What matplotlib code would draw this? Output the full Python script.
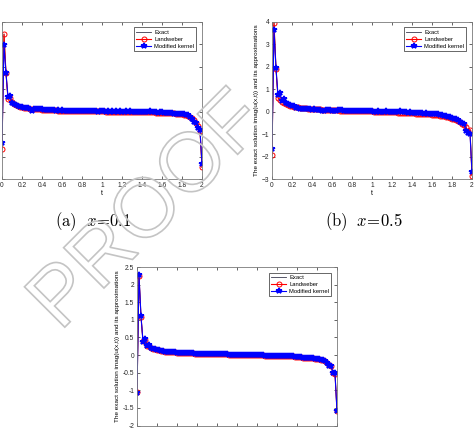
import numpy as np
import matplotlib
matplotlib.use("Agg")
import matplotlib.pyplot as plt
from matplotlib.textpath import TextPath
from matplotlib.patches import PathPatch
from matplotlib.font_manager import FontProperties
from matplotlib.transforms import Affine2D

plt.rcParams['font.family'] = ['Liberation Sans', 'DejaVu Sans']
plt.rcParams['mathtext.fontset'] = 'cm'

# time grid t = 0:0.02:2
t = np.linspace(0.0, 2.0, 101)

# ---------------- panel (a) x = 0.1 ----------------
mod_a = [-1.41,
         2.97, 1.71, 0.67, 0.70, 0.40, 0.36, 0.30, 0.27, 0.22, 0.20,
         0.18, 0.17, 0.15, 0.14, 0.05, 0.11, 0.12, 0.11, 0.10, 0.10,
         0.08, 0.09, 0.07, 0.08, 0.06, 0.07, 0.05, 0.06, 0.05, 0.06,
         0.04, 0.05, 0.03, 0.05, 0.04, 0.02, 0.04, 0.03, 0.05, 0.01,
         0.03, 0.02, 0.04, 0.03, 0.01, 0.03, 0.02, 0.00, 0.02, 0.01,
         0.02, 0.00, 0.02, -0.01, 0.01, 0.00, 0.02, -0.01, 0.01, 0.00,
         -0.02, 0.01, 0.00, 0.02, 0.00, -0.01, 0.00, -0.02, 0.00, -0.01,
         -0.03, -0.01, -0.02, 0.03, -0.01, -0.03, -0.02, -0.04, -0.02, 0.00,
         -0.04, -0.06, -0.05, -0.07, -0.06, -0.09, -0.08, -0.10, -0.09, -0.11,
         -0.10, -0.13, -0.16, -0.25, -0.33, -0.45, -0.52, -0.74, -0.80, -2.33]
land_a = [-1.66,
          3.46, 1.72, 0.55, 0.62, 0.42, 0.33, 0.28, 0.25, 0.22, 0.20,
          0.18, 0.16, 0.15, 0.14, 0.13, 0.12, 0.11, 0.10, 0.10, 0.09,
          0.08, 0.08, 0.07, 0.07, 0.06, 0.06, 0.06, 0.05, 0.05, 0.05,
          0.04, 0.04, 0.04, 0.03, 0.03, 0.03, 0.03, 0.03, 0.02, 0.02,
          0.02, 0.02, 0.02, 0.02, 0.01, 0.01, 0.01, 0.01, 0.01, 0.01,
          0.01, 0.00, 0.00, 0.00, 0.00, 0.00, 0.00, 0.00, 0.00, -0.01,
          -0.01, -0.01, -0.01, -0.01, -0.01, -0.01, -0.02, -0.02, -0.02, -0.02,
          -0.02, -0.02, -0.03, -0.03, -0.03, -0.03, -0.04, -0.04, -0.04, -0.05,
          -0.05, -0.05, -0.06, -0.06, -0.07, -0.07, -0.08, -0.09, -0.10, -0.11,
          -0.13, -0.15, -0.18, -0.22, -0.28, -0.36, -0.50, -0.62, -0.85, -2.48]
exact_a = land_a

# ---------------- panel (b) x = 0.5 ----------------
mod_b = [-1.66,
         3.64, 1.95, 0.74, 0.82, 0.48, 0.55, 0.38, 0.34, 0.31, 0.26,
         0.24, 0.16, 0.17, 0.14, 0.12, 0.13, 0.11, 0.12, 0.10, 0.09,
         0.10, 0.08, 0.06, 0.07, 0.05, 0.04, 0.06, 0.08, 0.07, 0.05,
         0.03, 0.04, 0.06, 0.08, 0.07, 0.05, 0.04, 0.02, 0.04, 0.05,
         0.03, 0.02, 0.03, 0.01, 0.02, 0.03, 0.01, 0.02, 0.03, 0.02,
         0.00, -0.01, 0.01, 0.00, -0.02, 0.00, 0.01, -0.01, 0.00, -0.01,
         -0.02, 0.00, -0.01, 0.01, -0.02, -0.03, -0.02, -0.04, -0.03, -0.05,
         -0.04, -0.06, -0.05, -0.07, -0.06, -0.08, -0.07, -0.09, -0.08, -0.10,
         -0.11, -0.10, -0.12, -0.14, -0.16, -0.18, -0.20, -0.22, -0.25, -0.28,
         -0.31, -0.34, -0.38, -0.44, -0.50, -0.55, -0.88, -0.93, -0.98, -2.70]
land_b = [-1.93,
          3.97, 1.90, 0.62, 0.52, 0.45, 0.38, 0.34, 0.30, 0.27, 0.25,
          0.23, 0.21, 0.19, 0.18, 0.17, 0.16, 0.15, 0.14, 0.13, 0.12,
          0.12, 0.11, 0.10, 0.10, 0.09, 0.09, 0.08, 0.08, 0.07, 0.07,
          0.06, 0.06, 0.06, 0.05, 0.05, 0.05, 0.04, 0.04, 0.04, 0.03,
          0.03, 0.03, 0.03, 0.02, 0.02, 0.02, 0.02, 0.01, 0.01, 0.01,
          0.00, 0.00, 0.00, -0.01, -0.01, -0.01, -0.02, -0.02, -0.02, -0.03,
          -0.03, -0.03, -0.04, -0.04, -0.04, -0.05, -0.05, -0.06, -0.06, -0.07,
          -0.07, -0.08, -0.08, -0.09, -0.09, -0.10, -0.10, -0.11, -0.12, -0.13,
          -0.14, -0.15, -0.16, -0.17, -0.19, -0.21, -0.23, -0.25, -0.28, -0.31,
          -0.34, -0.38, -0.42, -0.47, -0.53, -0.60, -0.70, -0.85, -0.82, -2.85]
exact_b = land_b

# ---------------- panel (c) ----------------
mod_c = [-1.07,
         2.26, 1.10, 0.38, 0.45, 0.26, 0.28, 0.21, 0.18, 0.16, 0.14,
         0.13, 0.12, 0.11, 0.10, 0.10, 0.09, 0.09, 0.08, 0.08, 0.07,
         0.07, 0.06, 0.06, 0.06, 0.05, 0.05, 0.05, 0.05, 0.04, 0.04,
         0.04, 0.04, 0.04, 0.03, 0.03, 0.03, 0.03, 0.03, 0.03, 0.02,
         0.02, 0.02, 0.02, 0.02, 0.02, 0.01, 0.01, 0.01, 0.01, 0.01,
         0.01, 0.00, 0.00, 0.00, 0.00, 0.00, 0.00, -0.01, -0.01, -0.01,
         -0.01, -0.01, -0.01, -0.02, -0.02, -0.02, -0.02, -0.02, -0.03, -0.03,
         -0.03, -0.03, -0.03, -0.03, -0.04, -0.04, -0.04, -0.04, -0.05, -0.05,
         -0.06, -0.06, -0.07, -0.07, -0.08, -0.08, -0.09, -0.09, -0.10, -0.11,
         -0.12, -0.13, -0.15, -0.17, -0.22, -0.30, -0.30, -0.52, -0.52, -1.60]
land_c = [-1.05,
          2.24, 1.09, 0.39, 0.44, 0.27, 0.27, 0.21, 0.18, 0.16, 0.14,
          0.13, 0.12, 0.11, 0.10, 0.10, 0.09, 0.09, 0.08, 0.08, 0.07,
          0.07, 0.06, 0.06, 0.06, 0.05, 0.05, 0.05, 0.05, 0.04, 0.04,
          0.04, 0.04, 0.04, 0.03, 0.03, 0.03, 0.03, 0.03, 0.03, 0.02,
          0.02, 0.02, 0.02, 0.02, 0.02, 0.01, 0.01, 0.01, 0.01, 0.01,
          0.01, 0.00, 0.00, 0.00, 0.00, 0.00, 0.00, -0.01, -0.01, -0.01,
          -0.01, -0.01, -0.01, -0.02, -0.02, -0.02, -0.02, -0.02, -0.03, -0.03,
          -0.03, -0.03, -0.03, -0.03, -0.04, -0.04, -0.04, -0.04, -0.05, -0.05,
          -0.06, -0.06, -0.07, -0.07, -0.08, -0.08, -0.09, -0.09, -0.10, -0.11,
          -0.12, -0.13, -0.15, -0.17, -0.22, -0.29, -0.31, -0.51, -0.53, -1.58]
exact_c = land_c

x_ticks = [0, 0.2, 0.4, 0.6, 0.8, 1.0, 1.2, 1.4, 1.6, 1.8, 2.0]
x_ticklabels = ['0', '0.2', '0.4', '0.6', '0.8', '1', '1.2', '1.4', '1.6', '1.8', '2']
y_ticks_ab = [-3, -2, -1, 0, 1, 2, 3, 4]
y_ticks_c = [-2, -1.5, -1, -0.5, 0, 0.5, 1, 1.5, 2, 2.5]
y_ticklabels_c = ['-2', '-1.5', '-1', '-0.5', '0', '0.5', '1', '1.5', '2', '2.5']
legend_labels = ['Exact', 'Landweber', 'Modified kernel']
ylabel_text = 'The exact solution imag(u(x,t)) and its approximations'
captions = [r'$\mathrm{(a)}\ \ x\!=\!0.1$', r'$\mathrm{(b)}\ \ x\!=\!0.5$']

W, H = 474, 428
fig = plt.figure(figsize=(W / 100, H / 100), dpi=100)


def ax_at(left, top, width, height):
    return fig.add_axes([left / W, 1 - (top + height) / H, width / W, height / H])


def draw(ax, exact, land, mod, ylim, yticks, yticklabels=None):
    ax.plot(t, exact, '-', color='#3a3a50', lw=0.6, label=legend_labels[0])
    ax.plot(t, land, '-o', color='#ff0000', lw=0.8, ms=3.6, mfc='none', mew=0.7,
            label=legend_labels[1])
    ax.plot(t, mod, '-*', color='#0000ff', lw=0.8, ms=4.4, mew=1.1,
            label=legend_labels[2])
    ax.set_xlim(0, 2)
    ax.set_ylim(*ylim)
    ax.set_xticks(x_ticks)
    ax.set_xticklabels(x_ticklabels)
    ax.set_yticks(yticks)
    if yticklabels is not None:
        ax.set_yticklabels(yticklabels)
    ax.tick_params(direction='in', length=2.0, width=0.5, top=True, right=True,
                   labelsize=4.8, pad=2, colors='#262626')
    for s in ax.spines.values():
        s.set_linewidth(0.6)
        s.set_color('#7a7a7a')
    ax.set_ylabel(ylabel_text, fontsize=4.6, labelpad=2)
    leg = ax.legend(loc='upper right', bbox_to_anchor=(0.97, 0.965), fontsize=4.2,
                    frameon=True, fancybox=False, borderaxespad=0, handlelength=2.6,
                    borderpad=0.35, labelspacing=0.35, handletextpad=0.5)
    leg.get_frame().set_edgecolor('#222222')
    leg.get_frame().set_linewidth(0.6)


ax_a = ax_at(2, 22, 200, 157)
draw(ax_a, exact_a, land_a, mod_a, (-3, 4), y_ticks_ab)
ax_a.set_xlabel('t', fontsize=5, labelpad=1)

ax_b = ax_at(272, 22, 200, 157)
draw(ax_b, exact_b, land_b, mod_b, (-3, 4), y_ticks_ab)
ax_b.set_xlabel('t', fontsize=5, labelpad=1)

ax_c = ax_at(137, 267, 200, 158.5)
draw(ax_c, exact_c, land_c, mod_c, (-2, 2.5), y_ticks_c, y_ticklabels_c)

fig.text(93 / W, 1 - 222 / H, captions[0], fontsize=12, ha='center', va='center')
fig.text(364 / W, 1 - 222 / H, captions[1], fontsize=12, ha='center', va='center')

# "PROOF" watermark (outlined, light gray)
tp = TextPath((0, 0), 'PROOF', size=1, prop=FontProperties(family='Liberation Sans'))
em = 83.0
x0, y0 = 60.0, H - 332.0
tr = Affine2D().scale(em).rotate_deg(45).translate(x0, y0).scale(1 / 100.0) + fig.dpi_scale_trans
patch = PathPatch(tp, transform=tr, facecolor='none', edgecolor='#c4c4c4', lw=1.2, zorder=10)
fig.add_artist(patch)

fig.savefig('out.png', dpi=100)
